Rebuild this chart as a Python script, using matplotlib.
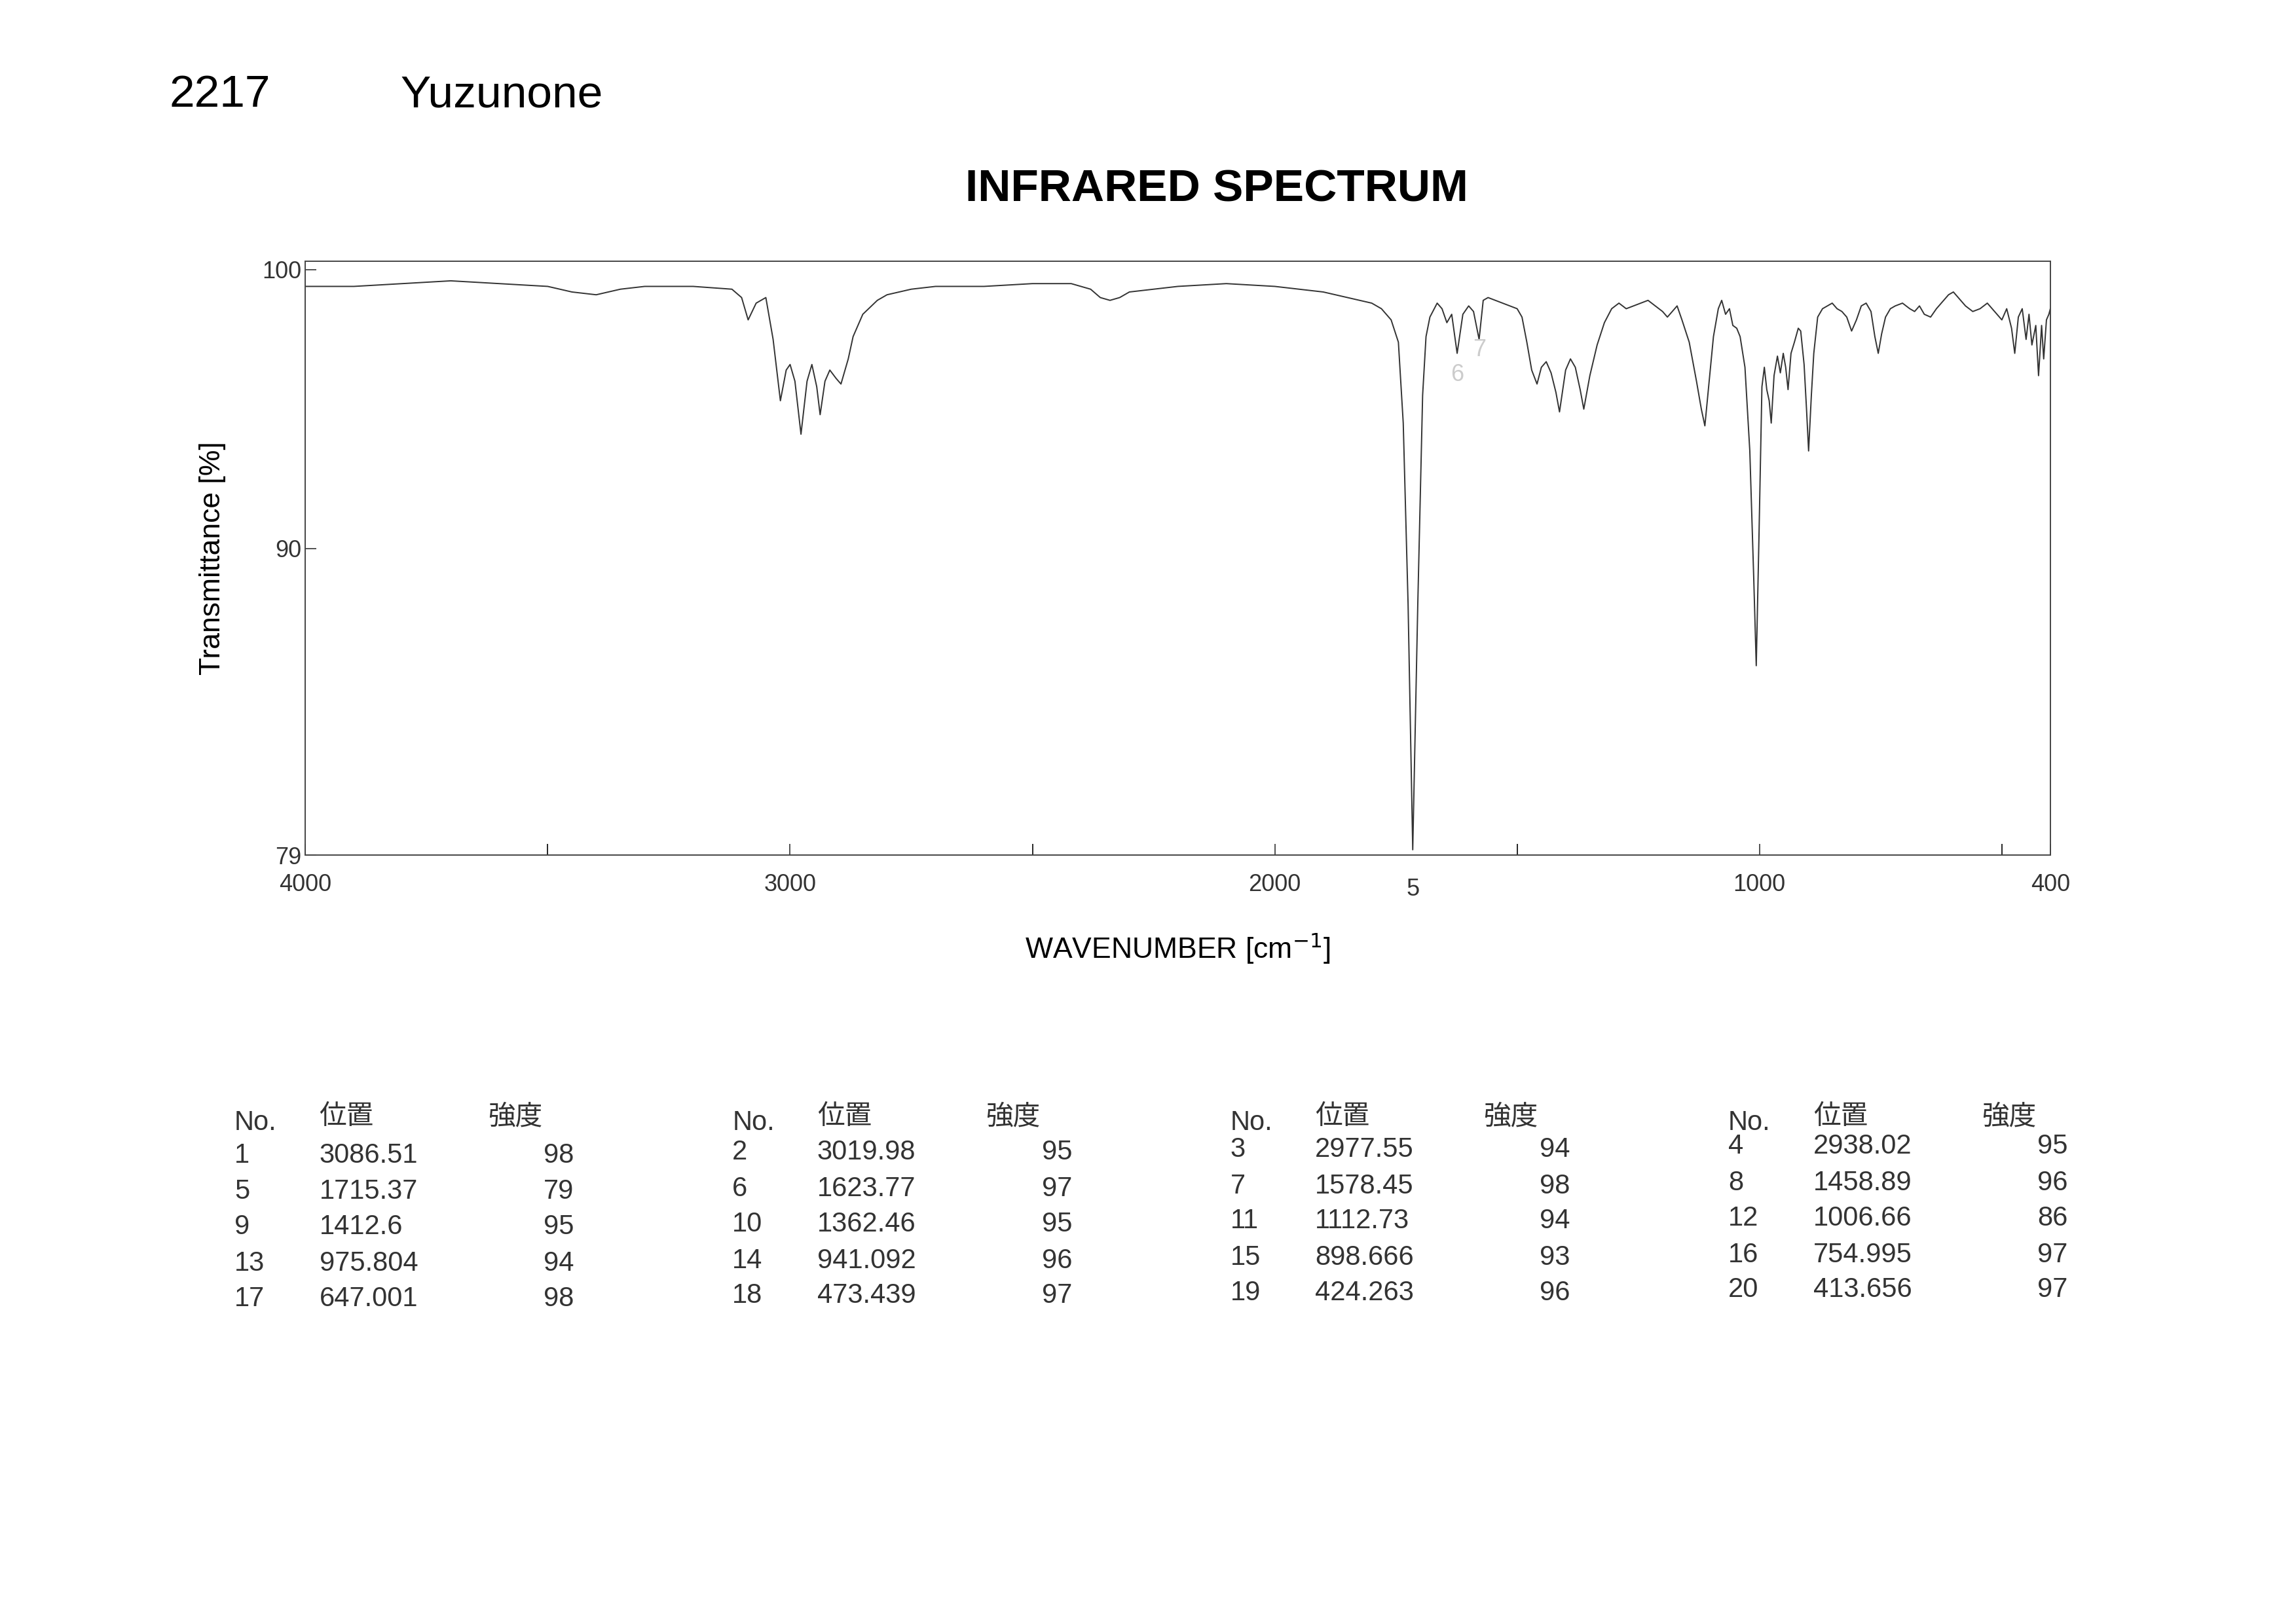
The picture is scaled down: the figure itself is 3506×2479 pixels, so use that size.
import matplotlib
matplotlib.use("Agg")
import matplotlib.pyplot as plt

plt.rcParams['font.family'] = ['Liberation Sans', 'Noto Sans CJK JP', 'DejaVu Sans']

# (wavenumber, transmittance)
spectrum_points = [
    (4000, 99.4), (3900, 99.4), (3800, 99.5), (3700, 99.6), (3600, 99.5), (3500, 99.4), (3450, 99.2),
    (3400, 99.1), (3350, 99.3), (3300, 99.4), (3200, 99.4), (3120, 99.3), (3100, 99.0), (3086.5, 98.2),
    (3070, 98.8), (3050, 99.0), (3035, 97.5), (3020, 95.3), (3008, 96.4), (3000, 96.6), (2990, 96.0),
    (2977.5, 94.1), (2965, 96.0), (2955, 96.6), (2945, 95.8), (2938, 94.8), (2928, 96.0), (2918, 96.4),
    (2905, 96.1), (2895, 95.9), (2880, 96.8), (2870, 97.6), (2850, 98.4), (2820, 98.9), (2800, 99.1),
    (2750, 99.3), (2700, 99.4), (2600, 99.4), (2500, 99.5), (2420, 99.5), (2380, 99.3), (2360, 99.0),
    (2340, 98.9), (2320, 99.0), (2300, 99.2), (2200, 99.4), (2100, 99.5), (2000, 99.4), (1900, 99.2),
    (1850, 99.0), (1800, 98.8), (1780, 98.6), (1760, 98.2), (1745, 97.4), (1735, 94.5), (1725, 88.0),
    (1715.4, 79.2), (1705, 88.0), (1695, 95.5), (1688, 97.6), (1680, 98.3), (1665, 98.8), (1655, 98.6),
    (1645, 98.1), (1635, 98.4), (1623.8, 97.0), (1612, 98.4), (1600, 98.7), (1590, 98.5), (1578.5, 97.5),
    (1570, 98.9), (1560, 99.0), (1545, 98.9), (1530, 98.8), (1515, 98.7), (1500, 98.6), (1490, 98.3),
    (1480, 97.4), (1470, 96.4), (1459, 95.9), (1450, 96.5), (1440, 96.7), (1430, 96.3), (1420, 95.6),
    (1412.6, 94.9), (1400, 96.4), (1390, 96.8), (1380, 96.5), (1370, 95.7), (1362.5, 95.0), (1350, 96.2),
    (1335, 97.3), (1320, 98.1), (1305, 98.6), (1290, 98.8), (1275, 98.6), (1260, 98.7), (1245, 98.8),
    (1230, 98.9), (1215, 98.7), (1200, 98.5), (1190, 98.3), (1180, 98.5), (1170, 98.7), (1160, 98.2),
    (1145, 97.4), (1130, 96.0), (1120, 95.0), (1112.7, 94.4), (1105, 95.8), (1095, 97.6), (1085, 98.6),
    (1078, 98.9), (1070, 98.4), (1062, 98.6), (1055, 98.0), (1047, 97.9), (1040, 97.6), (1030, 96.5),
    (1020, 93.5), (1012, 89.0), (1006.7, 85.8), (1001, 90.5), (995, 95.8), (990, 96.5), (985, 95.7),
    (980, 95.3), (975.8, 94.5), (970, 96.2), (963, 96.9), (957, 96.3), (951, 97.0), (946, 96.5),
    (941.1, 95.7), (935, 97.0), (928, 97.4), (920, 97.9), (915, 97.8), (908, 96.6), (903, 95.0),
    (898.7, 93.5), (893, 95.5), (888, 97.0), (880, 98.3), (870, 98.6), (860, 98.7), (850, 98.8),
    (840, 98.6), (830, 98.5), (820, 98.3), (810, 97.8), (800, 98.2), (790, 98.7), (780, 98.8),
    (770, 98.5), (762, 97.6), (755, 97.0), (748, 97.7), (740, 98.3), (730, 98.6), (720, 98.7),
    (705, 98.8), (690, 98.6), (680, 98.5), (670, 98.7), (660, 98.4), (647, 98.3), (635, 98.6),
    (620, 98.9), (610, 99.1), (600, 99.2), (590, 99.0), (575, 98.7), (560, 98.5), (545, 98.6),
    (530, 98.8), (515, 98.5), (500, 98.2), (490, 98.6), (480, 97.9), (473.4, 97.0), (466, 98.3),
    (458, 98.6), (450, 97.5), (444, 98.4), (438, 97.3), (430, 98.0), (424.3, 96.2), (418, 98.0),
    (413.7, 96.8), (408, 98.2), (403, 98.4), (400, 98.6),
]
wavenumber = [p[0] for p in spectrum_points]
transmittance = [p[1] for p in spectrum_points]

peak_no = list(range(1, 21))
peak_pos = ["3086.51", "3019.98", "2977.55", "2938.02", "1715.37", "1623.77", "1578.45", "1458.89",
            "1412.6", "1362.46", "1112.73", "1006.66", "975.804", "941.092", "898.666", "754.995",
            "647.001", "473.439", "424.263", "413.656"]
peak_int = [98, 95, 94, 95, 79, 97, 98, 96, 95, 95, 94, 86, 94, 96, 93, 97, 98, 97, 96, 97]

W, H = 3506, 2479
fig = plt.figure(figsize=(W / 100, H / 100), dpi=100)
ax = fig.add_axes([0.133, 0.473, 0.760, 0.366])
ax.plot(wavenumber, transmittance, color='#333333', lw=1.4)
ax.set_xlim(4000, 400)
ax.set_ylim(79, 100.3)
ax.set_xticks([4000, 3000, 2000, 1000, 400])
ax.set_xticklabels(["4000", "3000", "2000", "1000", "400"])
ax.set_xticks([3500, 2500, 1500, 500], minor=True)
ax.set_yticks([79, 90, 100])
ax.tick_params(axis='both', direction='in', length=12, width=1.2, labelsize=26, colors='#333333', pad=4)
ax.tick_params(axis='x', which='both', pad=20)
ax.tick_params(axis='x', which='minor', direction='in', length=12, width=1.2)
for s in ax.spines.values():
    s.set_linewidth(1.4)
    s.set_color('#444444')
ax.set_xlabel("WAVENUMBER [cm$^{-1}$]", fontsize=32, labelpad=38)
ax.set_ylabel("Transmittance [%]", fontsize=32, labelpad=40)

ax.text(1715, 78.2, "5", fontsize=26, ha='center', va='top', color='#333333', clip_on=False)
ax.text(1623, 96.0, "6", fontsize=26, ha='center', color='#cccccc')
ax.text(1578, 96.9, "7", fontsize=26, ha='center', color='#cccccc')

fig.text(258 / W, 1 - 145 / H, "2217", fontsize=50, va='center', ha='left')
fig.text(612 / W, 1 - 145 / H, "Yuzunone", fontsize=50, va='center', ha='left')
fig.text(0.530, 1 - 290 / H, "INFRARED SPECTRUM", fontsize=50, fontweight='bold', ha='center', va='center')

group_x = [160, 500, 840, 1180]
row_y = [789, 814, 838, 863, 887]
sx = W / 1552.0 * 0.99
for g in range(4):
    x0 = group_x[g] * sx
    fig.text(x0 / W, 1 - 767 * sx / H, "No.", fontsize=30, color='#333333', va='center')
    fig.text((x0 + 58 * sx) / W, 1 - 763 * sx / H, "位置", fontsize=30, color='#333333', va='center')
    fig.text((x0 + 173 * sx) / W, 1 - 763 * sx / H, "強度", fontsize=30, color='#333333', va='center')
    for r in range(5):
        i = r * 4 + g
        y = 1 - (row_y[r] - 2 * g) * sx / H
        fig.text(x0 / W, y, str(peak_no[i]), fontsize=30, color='#333333', va='center')
        fig.text((x0 + 58 * sx) / W, y, peak_pos[i], fontsize=30, color='#333333', va='center')
        fig.text((x0 + 232 * sx) / W, y, str(peak_int[i]), fontsize=30, color='#333333', va='center', ha='right')

fig.savefig("out.png", dpi=100, facecolor='white')
